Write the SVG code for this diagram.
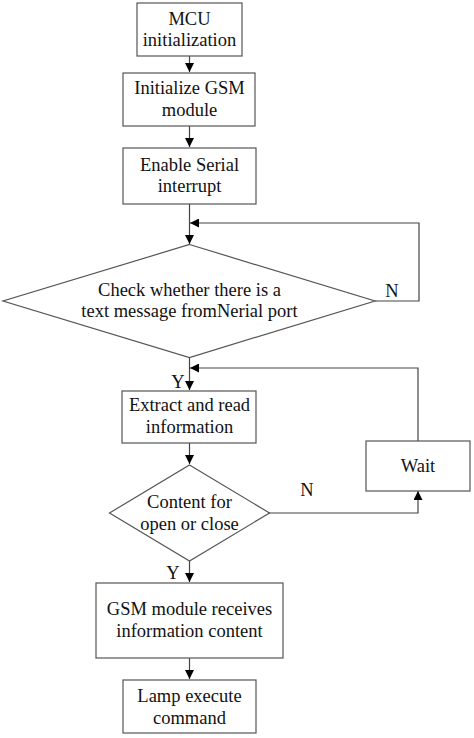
<svg xmlns="http://www.w3.org/2000/svg" width="474" height="738" viewBox="0 0 474 738">
<defs>
<marker id="ah" viewBox="0 0 10 10" refX="10" refY="5" markerWidth="9" markerHeight="9" markerUnits="userSpaceOnUse" orient="auto">
<path d="M0,0 L10,5 L0,10 Z" fill="#000"/>
</marker>
</defs>
<style>
.b{fill:#fff;stroke:#555;stroke-width:1.2}
.t{font-family:"Liberation Serif","Times New Roman",serif;font-size:18.5px;fill:#111;text-anchor:middle}
.c{fill:none;stroke:#444;stroke-width:1.2}
</style>
<rect width="474" height="738" fill="#fff"/>
<g id="connectors">
<path class="c" d="M189.5,56 V72" marker-end="url(#ah)"/>
<path class="c" d="M189.5,126 V147" marker-end="url(#ah)"/>
<path class="c" d="M189.5,204 V244" marker-end="url(#ah)"/>
<path class="c" d="M375,301 H419 V223 H190" marker-end="url(#ah)"/>
<path class="c" d="M189.5,358 V390" marker-end="url(#ah)"/>
<path class="c" d="M418,441 V368 H190" marker-end="url(#ah)"/>
<path class="c" d="M189.5,443 V464" marker-end="url(#ah)"/>
<path class="c" d="M269,513 H418 V491" marker-end="url(#ah)"/>
<path class="c" d="M189.5,561 V582" marker-end="url(#ah)"/>
<path class="c" d="M189.5,658 V679" marker-end="url(#ah)"/>
<text class="t" x="392" y="297">N</text>
<text class="t" x="178" y="388">Y</text>
<text class="t" x="307" y="496">N</text>
<text class="t" x="173" y="579">Y</text>
</g>
<g id="n1"><rect class="b" x="137" y="3" width="105" height="53"/>
<text class="t" x="189.5" y="25">MCU</text><text class="t" x="189.5" y="46">initialization</text></g>
<g id="n2"><rect class="b" x="123" y="73" width="132" height="53"/>
<text class="t" x="189.5" y="94">Initialize GSM</text><text class="t" x="189.5" y="116">module</text></g>
<g id="n3"><rect class="b" x="123" y="148" width="133" height="56"/>
<text class="t" x="189.5" y="171">Enable Serial</text><text class="t" x="189.5" y="192">interrupt</text></g>
<g id="d1"><polygon class="b" points="189.5,244.5 375,301 189.5,357.5 3,301"/>
<text class="t" x="189.5" y="296">Check whether there is a</text><text class="t" x="189.5" y="317">text message fromNerial port</text></g>
<g id="n4"><rect class="b" x="122" y="391" width="134" height="52"/>
<text class="t" x="189.5" y="411">Extract and read</text><text class="t" x="189.5" y="433">information</text></g>
<g id="d2"><polygon class="b" points="189.5,465 269.5,513 189.5,561 109.5,513"/>
<text class="t" x="189.5" y="508">Content for</text><text class="t" x="189.5" y="530">open or close</text></g>
<g id="wait"><rect class="b" x="366" y="441" width="104" height="50"/>
<text class="t" x="418" y="472">Wait</text></g>
<g id="n5"><rect class="b" x="96" y="583" width="187" height="75"/>
<text class="t" x="189.5" y="615">GSM module receives</text><text class="t" x="189.5" y="637">information content</text></g>
<g id="n6"><rect class="b" x="123" y="680" width="133" height="53"/>
<text class="t" x="189.5" y="702">Lamp execute</text><text class="t" x="189.5" y="724">command</text></g>
</svg>
